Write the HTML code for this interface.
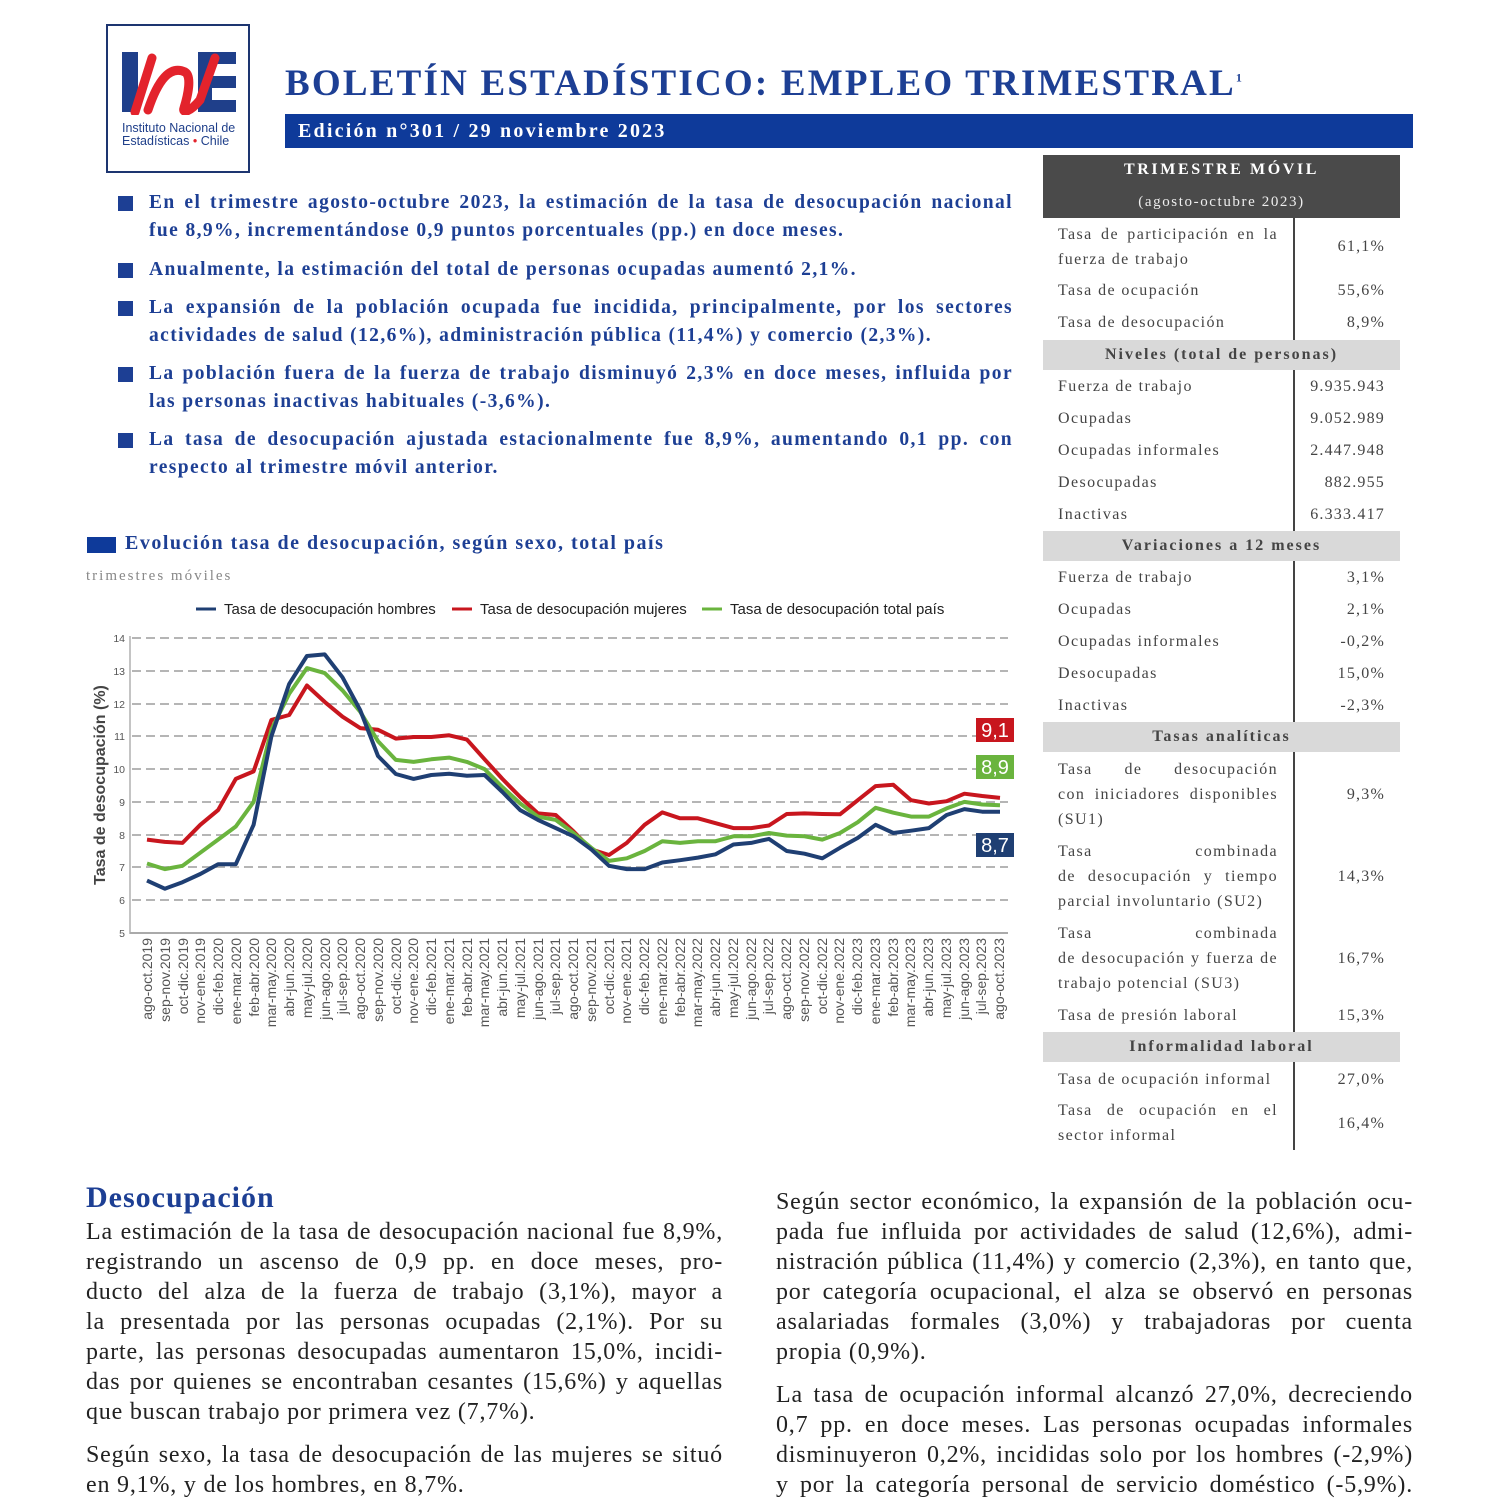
<!DOCTYPE html>
<html><head><meta charset="utf-8">
<style>
body{margin:0;width:1500px;height:1500px;background:#fff;position:relative;overflow:hidden;font-family:"Liberation Serif",serif}
.a{position:absolute;white-space:nowrap}
.bl{position:absolute;left:149px;width:864px;font-size:19.5px;font-weight:bold;color:#1d3f94;text-align:justify;text-align-last:justify;white-space:nowrap;line-height:28px;letter-spacing:1.4px}
.bl.l{text-align-last:left}
.sq{position:absolute;left:118px;width:15px;height:15px;background:#1d3f94}
.t{position:absolute;left:1058px;font-size:16px;color:#444;letter-spacing:1.4px;line-height:18px;white-space:nowrap}
.tj{width:220px;text-align:justify;text-align-last:justify}
.v{position:absolute;right:115px;font-size:16px;color:#444;letter-spacing:1.2px;line-height:18px}
.sec{position:absolute;left:1043px;width:357px;height:30px;background:#d9d9d9;text-align:center;font-size:16px;font-weight:bold;color:#444;line-height:30px;letter-spacing:2px}
.vl{position:absolute;left:1293px;width:1.5px;background:#444}
.p{position:absolute;font-size:24px;color:#222;line-height:30px;white-space:nowrap;text-align:justify;text-align-last:justify;letter-spacing:0.8px}
.p.l{text-align-last:left}
.L{left:86px;width:637px}
.R{left:776px;width:637px}
</style></head><body>
<!-- logo -->
<div class="a" style="left:106px;top:24px;width:140px;height:145px;border:2.5px solid #1d3570"></div>
<div class="a" style="left:122px;top:52px;width:16px;height:60px;background:#1f3f8a"></div>
<div class="a" style="left:198px;top:52px;width:38px;height:60px;background:#1f3f8a"></div>
<div class="a" style="left:212px;top:64px;width:24px;height:12px;background:#fff"></div>
<div class="a" style="left:212px;top:88px;width:24px;height:12px;background:#fff"></div>
<svg class="a" style="left:130px;top:50px" width="90" height="65"><path d="M5 62 L22 8 M18 60 C28 30 40 15 55 22 C62 26 58 45 54 58 C52 64 60 62 70 50 L85 8" fill="none" stroke="#e3232c" stroke-width="9" stroke-linecap="round"/></svg>
<div class="a" style="left:122px;top:122px;font-family:'Liberation Sans',sans-serif;font-size:12.5px;color:#1f3f8a;line-height:13px">Instituto Nacional de<br>Estadísticas <span style="color:#e3232c">•</span> Chile</div>
<!-- title -->
<div class="a" style="left:285px;top:62px;font-size:37px;font-weight:bold;color:#1d3f94;letter-spacing:2.2px">BOLETÍN ESTADÍSTICO: EMPLEO TRIMESTRAL<sup style="font-size:12px">1</sup></div>
<div class="a" style="left:285px;top:114px;width:1128px;height:34px;background:#0e3a9a"></div>
<div class="a" style="left:298px;top:117px;font-size:20px;font-weight:bold;color:#fff;letter-spacing:2.2px;line-height:28px">Edición n°301 / 29 noviembre 2023</div>
<!-- bullets -->
<div class="sq" style="top:196px"></div>
<div class="bl" style="top:189px">En el trimestre agosto-octubre 2023, la estimación de la tasa de desocupación nacional</div>
<div class="bl l" style="top:217px">fue 8,9%, incrementándose 0,9 puntos porcentuales (pp.) en doce meses.</div>
<div class="sq" style="top:263px"></div>
<div class="bl l" style="top:256px">Anualmente, la estimación del total de personas ocupadas aumentó 2,1%.</div>
<div class="sq" style="top:301px"></div>
<div class="bl" style="top:294px">La expansión de la población ocupada fue incidida, principalmente, por los sectores</div>
<div class="bl l" style="top:322px">actividades de salud (12,6%), administración pública (11,4%) y comercio (2,3%).</div>
<div class="sq" style="top:367px"></div>
<div class="bl" style="top:360px">La población fuera de la fuerza de trabajo disminuyó 2,3% en doce meses, influida por</div>
<div class="bl l" style="top:388px">las personas inactivas habituales (-3,6%).</div>
<div class="sq" style="top:433px"></div>
<div class="bl" style="top:426px">La tasa de desocupación ajustada estacionalmente fue 8,9%, aumentando 0,1 pp. con</div>
<div class="bl l" style="top:454px">respecto al trimestre móvil anterior.</div>
<!-- chart title -->
<div class="a" style="left:87px;top:537px;width:29px;height:16px;background:#0e3a9a"></div>
<div class="a" style="left:125px;top:532px;font-size:20px;font-weight:bold;color:#1d3f94;letter-spacing:1.5px">Evolución tasa de desocupación, según sexo, total país</div>
<div class="a" style="left:86px;top:568px;font-size:15px;color:#888;letter-spacing:2px">trimestres móviles</div>
<svg class="a" style="left:0;top:0" width="1500" height="1100" id="ch" font-family="Liberation Sans, sans-serif">
<g font-size="15" fill="#222">
<line x1="196" y1="609" x2="216" y2="609" stroke="#1f3f73" stroke-width="3"/><text x="224" y="614">Tasa de desocupación hombres</text>
<line x1="452" y1="609" x2="472" y2="609" stroke="#c8161e" stroke-width="3"/><text x="480" y="614">Tasa de desocupación mujeres</text>
<line x1="702" y1="609" x2="722" y2="609" stroke="#6ab43e" stroke-width="3"/><text x="730" y="614">Tasa de desocupación total país</text>
</g>
<g stroke="#b5b5b5" stroke-width="2" stroke-dasharray="9,5">
<line x1="132" x2="1008" y1="638" y2="638"/><line x1="132" x2="1008" y1="671" y2="671"/><line x1="132" x2="1008" y1="704" y2="704"/><line x1="132" x2="1008" y1="736" y2="736"/><line x1="132" x2="1008" y1="769" y2="769"/><line x1="132" x2="1008" y1="802" y2="802"/><line x1="132" x2="1008" y1="835" y2="835"/><line x1="132" x2="1008" y1="867" y2="867"/><line x1="132" x2="1008" y1="900" y2="900"/>
</g>
<line x1="130" y1="636" x2="130" y2="934" stroke="#888" stroke-width="1"/>
<line x1="130" y1="933" x2="1008" y2="933" stroke="#aaa" stroke-width="2"/>
<g font-size="10.5" fill="#555" text-anchor="end">
<text x="125" y="642">14</text><text x="125" y="675">13</text><text x="125" y="708">12</text><text x="125" y="740">11</text><text x="125" y="773">10</text><text x="125" y="806">9</text><text x="125" y="839">8</text><text x="125" y="871">7</text><text x="125" y="904">6</text><text x="125" y="937">5</text>
</g>
<text transform="translate(105,785) rotate(-90)" font-size="16" font-weight="bold" fill="#444" text-anchor="middle">Tasa de desocupación (%)</text>
<g id="xl" font-size="14" fill="#555" text-anchor="end">
<text transform="translate(152,938) rotate(-90)">ago-oct.2019</text>
<text transform="translate(170,938) rotate(-90)">sep-nov.2019</text>
<text transform="translate(188,938) rotate(-90)">oct-dic.2019</text>
<text transform="translate(205,938) rotate(-90)">nov-ene.2019</text>
<text transform="translate(223,938) rotate(-90)">dic-feb.2020</text>
<text transform="translate(241,938) rotate(-90)">ene-mar.2020</text>
<text transform="translate(259,938) rotate(-90)">feb-abr.2020</text>
<text transform="translate(276,938) rotate(-90)">mar-may.2020</text>
<text transform="translate(294,938) rotate(-90)">abr-jun.2020</text>
<text transform="translate(312,938) rotate(-90)">may-jul.2020</text>
<text transform="translate(330,938) rotate(-90)">jun-ago.2020</text>
<text transform="translate(347,938) rotate(-90)">jul-sep.2020</text>
<text transform="translate(365,938) rotate(-90)">ago-oct.2020</text>
<text transform="translate(383,938) rotate(-90)">sep-nov.2020</text>
<text transform="translate(401,938) rotate(-90)">oct-dic.2020</text>
<text transform="translate(418,938) rotate(-90)">nov-ene.2020</text>
<text transform="translate(436,938) rotate(-90)">dic-feb.2021</text>
<text transform="translate(454,938) rotate(-90)">ene-mar.2021</text>
<text transform="translate(472,938) rotate(-90)">feb-abr.2021</text>
<text transform="translate(489,938) rotate(-90)">mar-may.2021</text>
<text transform="translate(507,938) rotate(-90)">abr-jun.2021</text>
<text transform="translate(525,938) rotate(-90)">may-jul.2021</text>
<text transform="translate(543,938) rotate(-90)">jun-ago.2021</text>
<text transform="translate(560,938) rotate(-90)">jul-sep.2021</text>
<text transform="translate(578,938) rotate(-90)">ago-oct.2021</text>
<text transform="translate(596,938) rotate(-90)">sep-nov.2021</text>
<text transform="translate(614,938) rotate(-90)">oct-dic.2021</text>
<text transform="translate(631,938) rotate(-90)">nov-ene.2021</text>
<text transform="translate(649,938) rotate(-90)">dic-feb.2022</text>
<text transform="translate(667,938) rotate(-90)">ene-mar.2022</text>
<text transform="translate(685,938) rotate(-90)">feb-abr.2022</text>
<text transform="translate(702,938) rotate(-90)">mar-may.2022</text>
<text transform="translate(720,938) rotate(-90)">abr-jun.2022</text>
<text transform="translate(738,938) rotate(-90)">may-jul.2022</text>
<text transform="translate(756,938) rotate(-90)">jun-ago.2022</text>
<text transform="translate(773,938) rotate(-90)">jul-sep.2022</text>
<text transform="translate(791,938) rotate(-90)">ago-oct.2022</text>
<text transform="translate(809,938) rotate(-90)">sep-nov.2022</text>
<text transform="translate(827,938) rotate(-90)">oct-dic.2022</text>
<text transform="translate(844,938) rotate(-90)">nov-ene.2022</text>
<text transform="translate(862,938) rotate(-90)">dic-feb.2023</text>
<text transform="translate(880,938) rotate(-90)">ene-mar.2023</text>
<text transform="translate(898,938) rotate(-90)">feb-abr.2023</text>
<text transform="translate(915,938) rotate(-90)">mar-may.2023</text>
<text transform="translate(933,938) rotate(-90)">abr-jun.2023</text>
<text transform="translate(951,938) rotate(-90)">may-jul.2023</text>
<text transform="translate(969,938) rotate(-90)">jun-ago.2023</text>
<text transform="translate(986,938) rotate(-90)">jul-sep.2023</text>
<text transform="translate(1004,938) rotate(-90)">ago-oct.2023</text>
</g>
<polyline id="pw" fill="none" stroke="#c8161e" stroke-width="4" stroke-linejoin="round"/>
<polyline id="pt" fill="none" stroke="#6ab43e" stroke-width="4" stroke-linejoin="round"/>
<polyline id="pm" fill="none" stroke="#1f3f73" stroke-width="4" stroke-linejoin="round"/>
<rect x="976" y="718" width="38" height="24" fill="#c8161e"/><text x="995" y="737" font-size="20" fill="#fff" text-anchor="middle">9,1</text>
<rect x="976" y="755" width="38" height="24" fill="#6ab43e"/><text x="995" y="774" font-size="20" fill="#fff" text-anchor="middle">8,9</text>
<rect x="976" y="833" width="38" height="24" fill="#1f3f73"/><text x="995" y="852" font-size="20" fill="#fff" text-anchor="middle">8,7</text>
</svg>
<script>
var m=[6.6,6.35,6.55,6.8,7.1,7.1,8.3,11.0,12.6,13.45,13.5,12.8,11.8,10.4,9.85,9.7,9.82,9.86,9.8,9.82,9.3,8.75,8.45,8.2,7.95,7.55,7.05,6.95,6.95,7.15,7.22,7.3,7.4,7.7,7.75,7.87,7.5,7.42,7.28,7.6,7.9,8.3,8.05,8.12,8.2,8.6,8.78,8.7,8.7];
var w=[7.85,7.78,7.75,8.3,8.75,9.7,9.93,11.5,11.65,12.55,12.05,11.6,11.25,11.2,10.93,10.98,10.98,11.03,10.9,10.3,9.7,9.15,8.65,8.6,8.1,7.55,7.38,7.75,8.3,8.68,8.5,8.5,8.35,8.2,8.2,8.28,8.63,8.65,8.63,8.62,9.05,9.48,9.52,9.05,8.95,9.02,9.25,9.18,9.12];
var t=[7.12,6.95,7.05,7.45,7.85,8.25,9.0,11.2,12.3,13.08,12.93,12.4,11.75,10.85,10.28,10.22,10.3,10.35,10.22,10.0,9.45,8.95,8.55,8.45,8.05,7.6,7.2,7.28,7.5,7.8,7.75,7.8,7.8,7.95,7.95,8.05,7.97,7.95,7.85,8.05,8.38,8.82,8.67,8.55,8.55,8.8,9.0,8.92,8.9];
function pts(a){return a.map(function(v,i){return (147+i*17.77).toFixed(1)+','+(933-(v-5)*32.78).toFixed(1)}).join(' ')}
document.getElementById('pm').setAttribute('points',pts(m));
document.getElementById('pw').setAttribute('points',pts(w));
document.getElementById('pt').setAttribute('points',pts(t));
</script>
<!-- table -->
<div class="a" style="left:1043px;top:155px;width:357px;height:63px;background:#4a4a4a"></div>
<div class="a" style="left:1043px;top:161px;width:357px;text-align:center;color:#fff;font-size:16px;letter-spacing:2.6px;font-weight:bold">TRIMESTRE MÓVIL</div>
<div class="a" style="left:1043px;top:194px;width:357px;text-align:center;color:#eee;font-size:15px;letter-spacing:1.6px">(agosto-octubre 2023)</div>
<div class="vl" style="top:218px;height:122px"></div>
<div class="t tj" style="top:226px">Tasa de participación en la</div>
<div class="t" style="top:251px">fuerza de trabajo</div><div class="v" style="top:238px">61,1%</div>
<div class="t" style="top:282px">Tasa de ocupación</div><div class="v" style="top:282px">55,6%</div>
<div class="t" style="top:314px">Tasa de desocupación</div><div class="v" style="top:314px">8,9%</div>
<div class="sec" style="top:340px">Niveles (total de personas)</div>
<div class="vl" style="top:370px;height:161px"></div>
<div class="t" style="top:378px">Fuerza de trabajo</div><div class="v" style="top:378px">9.935.943</div>
<div class="t" style="top:410px">Ocupadas</div><div class="v" style="top:410px">9.052.989</div>
<div class="t" style="top:442px">Ocupadas informales</div><div class="v" style="top:442px">2.447.948</div>
<div class="t" style="top:474px">Desocupadas</div><div class="v" style="top:474px">882.955</div>
<div class="t" style="top:506px">Inactivas</div><div class="v" style="top:506px">6.333.417</div>
<div class="sec" style="top:531px">Variaciones a 12 meses</div>
<div class="vl" style="top:561px;height:161px"></div>
<div class="t" style="top:569px">Fuerza de trabajo</div><div class="v" style="top:569px">3,1%</div>
<div class="t" style="top:601px">Ocupadas</div><div class="v" style="top:601px">2,1%</div>
<div class="t" style="top:633px">Ocupadas informales</div><div class="v" style="top:633px">-0,2%</div>
<div class="t" style="top:665px">Desocupadas</div><div class="v" style="top:665px">15,0%</div>
<div class="t" style="top:697px">Inactivas</div><div class="v" style="top:697px">-2,3%</div>
<div class="sec" style="top:722px">Tasas analíticas</div>
<div class="vl" style="top:752px;height:280px"></div>
<div class="t tj" style="top:761px">Tasa de desocupación</div>
<div class="t tj" style="top:786px">con iniciadores disponibles</div>
<div class="t" style="top:811px">(SU1)</div><div class="v" style="top:786px">9,3%</div>
<div class="t tj" style="top:843px">Tasa combinada</div>
<div class="t tj" style="top:868px">de desocupación y tiempo</div>
<div class="t" style="top:893px">parcial involuntario (SU2)</div><div class="v" style="top:868px">14,3%</div>
<div class="t tj" style="top:925px">Tasa combinada</div>
<div class="t tj" style="top:950px">de desocupación y fuerza de</div>
<div class="t" style="top:975px">trabajo potencial (SU3)</div><div class="v" style="top:950px">16,7%</div>
<div class="t" style="top:1007px">Tasa de presión laboral</div><div class="v" style="top:1007px">15,3%</div>
<div class="sec" style="top:1032px">Informalidad laboral</div>
<div class="vl" style="top:1062px;height:88px"></div>
<div class="t" style="top:1071px">Tasa de ocupación informal</div><div class="v" style="top:1071px">27,0%</div>
<div class="t tj" style="top:1102px">Tasa de ocupación en el</div>
<div class="t" style="top:1127px">sector informal</div><div class="v" style="top:1115px">16,4%</div>
<!-- body -->
<div class="a" style="left:86px;top:1181px;font-size:30px;font-weight:bold;color:#1d3f94;letter-spacing:1px">Desocupación</div>
<div class="p L" style="top:1217px">La estimación de la tasa de desocupación nacional fue 8,9%,</div>
<div class="p L" style="top:1247px">registrando un ascenso de 0,9 pp. en doce meses, pro-</div>
<div class="p L" style="top:1277px">ducto del alza de la fuerza de trabajo (3,1%), mayor a</div>
<div class="p L" style="top:1307px">la presentada por las personas ocupadas (2,1%). Por su</div>
<div class="p L" style="top:1337px">parte, las personas desocupadas aumentaron 15,0%, incidi-</div>
<div class="p L" style="top:1367px">das por quienes se encontraban cesantes (15,6%) y aquellas</div>
<div class="p L l" style="top:1397px">que buscan trabajo por primera vez (7,7%).</div>
<div class="p L" style="top:1440px">Según sexo, la tasa de desocupación de las mujeres se situó</div>
<div class="p L l" style="top:1470px">en 9,1%, y de los hombres, en 8,7%.</div>
<div class="p R" style="top:1187px">Según sector económico, la expansión de la población ocu-</div>
<div class="p R" style="top:1217px">pada fue influida por actividades de salud (12,6%), admi-</div>
<div class="p R" style="top:1247px">nistración pública (11,4%) y comercio (2,3%), en tanto que,</div>
<div class="p R" style="top:1277px">por categoría ocupacional, el alza se observó en personas</div>
<div class="p R" style="top:1307px">asalariadas formales (3,0%) y trabajadoras por cuenta</div>
<div class="p R l" style="top:1337px">propia (0,9%).</div>
<div class="p R" style="top:1380px">La tasa de ocupación informal alcanzó 27,0%, decreciendo</div>
<div class="p R" style="top:1410px">0,7 pp. en doce meses. Las personas ocupadas informales</div>
<div class="p R" style="top:1440px">disminuyeron 0,2%, incididas solo por los hombres (-2,9%)</div>
<div class="p R" style="top:1470px">y por la categoría personal de servicio doméstico (-5,9%).</div>
</body></html>
